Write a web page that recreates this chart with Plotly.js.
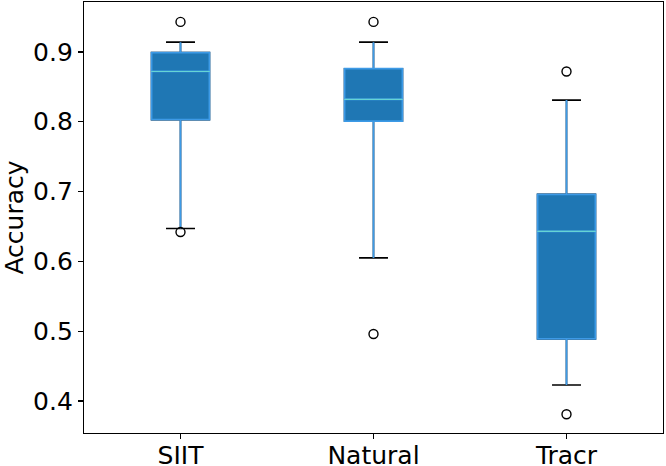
<!DOCTYPE html>
<html>
<head>
<meta charset="utf-8">
<script src="https://cdn.plot.ly/plotly-3.0.1.min.js"></script>
<style>
  html, body { margin: 0; padding: 0; background: #ffffff; }
  #chart { width: 666px; height: 466px; }
</style>
</head>
<body>
<div id="chart"></div>
<script>
(function () {
  'use strict';

  // Box statistics
  var methods = ['SIIT', 'Natural', 'Tracr'];
  var lowerWhisker = [0.647, 0.605, 0.423];
  var q1Values = [0.803, 0.801, 0.489];
  var medianValues = [0.872, 0.832, 0.643];
  var q3Values = [0.899, 0.876, 0.696];
  var upperWhisker = [0.914, 0.914, 0.831];

  // Fliers
  var outlierMethods = ['SIIT', 'SIIT', 'Natural', 'Natural', 'Tracr', 'Tracr'];
  var outlierValues = [0.943, 0.642, 0.943, 0.496, 0.872, 0.381];

  var yTicks = [0.4, 0.5, 0.6, 0.7, 0.8, 0.9];

  var fontFamily = '"DejaVu Sans", sans-serif';
  var boxFill = '#1f77b4';
  var whiskerColor = '#3d9ae6';
  var medianColor = '#66d4d4';

  // black caps (drawn first, rest is painted over them)
  var capsTrace = {
    type: 'box',
    x: methods,
    q1: q1Values,
    median: medianValues,
    q3: q3Values,
    lowerfence: lowerWhisker,
    upperfence: upperWhisker,
    width: 0.3,
    whiskerwidth: 0.5,
    fillcolor: 'rgba(0,0,0,0)',
    line: { color: '#000000', width: 1.6 },
    hoverinfo: 'skip'
  };

  // filled box + blue whiskers
  var boxTrace = {
    type: 'box',
    x: methods,
    q1: q1Values,
    median: medianValues,
    q3: q3Values,
    lowerfence: lowerWhisker,
    upperfence: upperWhisker,
    width: 0.3,
    whiskerwidth: 0,
    fillcolor: boxFill,
    line: { color: whiskerColor, width: 1.8 },
    hoverinfo: 'y'
  };

  // median line in its own colour
  var medianTrace = {
    type: 'box',
    x: methods,
    q1: medianValues,
    median: medianValues,
    q3: medianValues,
    lowerfence: medianValues,
    upperfence: medianValues,
    width: 0.3,
    whiskerwidth: 0,
    fillcolor: 'rgba(0,0,0,0)',
    line: { color: medianColor, width: 1 },
    hoverinfo: 'skip'
  };

  var outlierTrace = {
    type: 'scatter',
    mode: 'markers',
    x: outlierMethods,
    y: outlierValues,
    marker: {
      symbol: 'circle-open',
      size: 9,
      color: '#000000',
      line: { color: '#000000', width: 1.4 }
    },
    hoverinfo: 'y'
  };

  var axisLine = {
    showline: true,
    linecolor: '#000000',
    linewidth: 1.2,
    mirror: true,
    showgrid: false,
    zeroline: false,
    ticks: 'outside',
    ticklen: 5,
    tickwidth: 1.2,
    tickcolor: '#000000',
    tickfont: { family: fontFamily, size: 25, color: '#000000' }
  };

  var layout = {
    width: 666,
    height: 466,
    margin: { l: 84, r: 3, t: 2, b: 33 },
    paper_bgcolor: '#ffffff',
    plot_bgcolor: '#ffffff',
    showlegend: false,
    boxmode: 'overlay',
    font: { family: fontFamily, color: '#000000' },
    xaxis: Object.assign({}, axisLine, {
      type: 'category',
      categoryorder: 'array',
      categoryarray: methods,
      range: [-0.5, 2.5],
      ticklabelstandoff: -5
    }),
    yaxis: Object.assign({}, axisLine, {
      range: [0.3542, 0.9715],
      tickvals: yTicks,
      ticktext: yTicks.map(function (v) { return v.toFixed(1); }),
      title: {
        text: 'Accuracy',
        font: { family: fontFamily, size: 25, color: '#000000' },
        standoff: 5
      }
    })
  };

  Plotly.newPlot('chart', [capsTrace, boxTrace, medianTrace, outlierTrace], layout, {
    displayModeBar: false,
    staticPlot: true
  });
})();
</script>
</body>
</html>
